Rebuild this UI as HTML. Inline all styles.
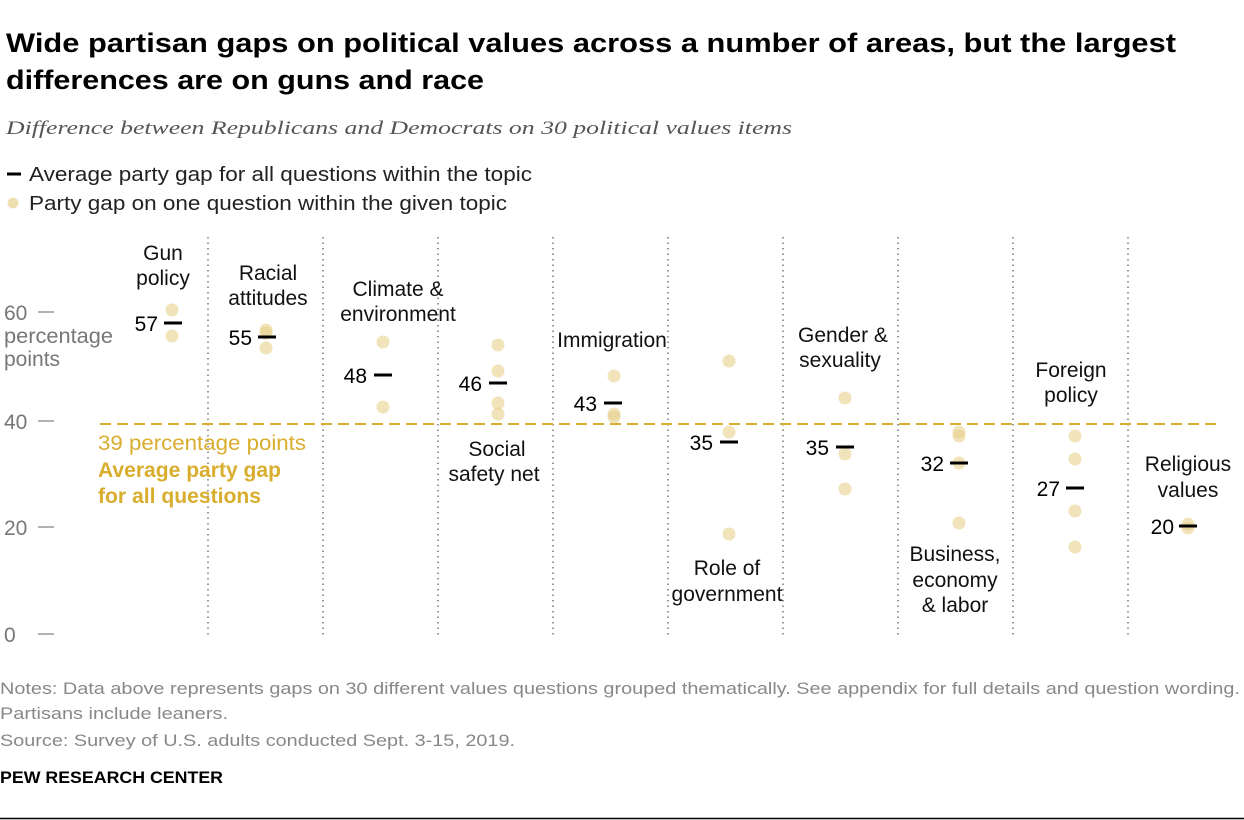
<!DOCTYPE html>
<html><head><meta charset="utf-8"><style>
html,body{margin:0;padding:0;background:#fff;}
svg{display:block;font-family:"Liberation Sans",sans-serif;}
</style></head><body>
<svg width="1244" height="820" viewBox="0 0 1244 820" xmlns="http://www.w3.org/2000/svg">
<text x="6" y="52" font-size="27" font-weight="bold" fill="#000" textLength="1170" lengthAdjust="spacingAndGlyphs">Wide partisan gaps on political values across a number of areas, but the largest</text>
<text x="6" y="89" font-size="27" font-weight="bold" fill="#000" textLength="478" lengthAdjust="spacingAndGlyphs">differences are on guns and race</text>
<text x="6" y="134" font-size="19" font-style="italic" font-family="Liberation Serif,serif" fill="#555" textLength="786" lengthAdjust="spacingAndGlyphs">Difference between Republicans and Democrats on 30 political values items</text>
<line x1="7" y1="174" x2="21" y2="174" stroke="#000" stroke-width="3"/>
<text x="29" y="181" font-size="20" fill="#222" textLength="503" lengthAdjust="spacingAndGlyphs">Average party gap for all questions within the topic</text>
<circle cx="13" cy="203" r="5.5" fill="#efe0b2"/>
<text x="29" y="210" font-size="20" fill="#222" textLength="478" lengthAdjust="spacingAndGlyphs">Party gap on one question within the given topic</text>
<g stroke="#777" stroke-width="1.5" stroke-dasharray="1.5,4">
<line x1="208" y1="237" x2="208" y2="636"/><line x1="323" y1="237" x2="323" y2="636"/><line x1="438" y1="237" x2="438" y2="636"/><line x1="553" y1="237" x2="553" y2="636"/><line x1="668" y1="237" x2="668" y2="636"/><line x1="783" y1="237" x2="783" y2="636"/><line x1="898" y1="237" x2="898" y2="636"/><line x1="1013" y1="237" x2="1013" y2="636"/><line x1="1128" y1="237" x2="1128" y2="636"/>
</g>
<g font-size="21" fill="#777">
<text x="4" y="320">60</text><text x="4" y="429">40</text><text x="4" y="535">20</text><text x="4" y="642">0</text>
<text x="4" y="343" textLength="109" lengthAdjust="spacingAndGlyphs">percentage</text><text x="4" y="366">points</text>
</g>
<g stroke="#999" stroke-width="1.5"><line x1="38" y1="312" x2="54" y2="312"/><line x1="38" y1="421" x2="54" y2="421"/><line x1="38" y1="527" x2="54" y2="527"/><line x1="38" y1="634" x2="54" y2="634"/></g>
<line x1="100" y1="424" x2="1222" y2="424" stroke="#d9ad2d" stroke-width="2" stroke-dasharray="11,6"/>
<g font-size="21" fill="#d9ad2d">
<text x="98" y="450" textLength="208" lengthAdjust="spacingAndGlyphs">39 percentage points</text>
<text x="98" y="477" font-weight="bold" textLength="183" lengthAdjust="spacingAndGlyphs">Average party gap</text>
<text x="98" y="503" font-weight="bold" textLength="163" lengthAdjust="spacingAndGlyphs">for all questions</text>
</g>
<g fill="rgba(232,208,140,0.6)">
<circle cx="172" cy="310" r="6.5"/><circle cx="172" cy="336" r="6.5"/>
<circle cx="266" cy="330" r="6.5"/><circle cx="266" cy="333" r="6.5"/><circle cx="266" cy="348" r="6.5"/>
<circle cx="383" cy="342" r="6.5"/><circle cx="383" cy="407" r="6.5"/>
<circle cx="498" cy="345" r="6.5"/><circle cx="498" cy="371" r="6.5"/><circle cx="498" cy="403" r="6.5"/><circle cx="498" cy="414" r="6.5"/>
<circle cx="614" cy="376" r="6.5"/><circle cx="614" cy="414" r="6.5"/><circle cx="614" cy="417" r="6.5"/>
<circle cx="729" cy="361" r="6.5"/><circle cx="729" cy="432" r="6.5"/><circle cx="729" cy="534" r="6.5"/>
<circle cx="845" cy="398" r="6.5"/><circle cx="845" cy="454" r="6.5"/><circle cx="845" cy="489" r="6.5"/>
<circle cx="959" cy="432" r="6.5"/><circle cx="959" cy="436" r="6.5"/><circle cx="959" cy="463" r="6.5"/><circle cx="959" cy="523" r="6.5"/>
<circle cx="1075" cy="436" r="6.5"/><circle cx="1075" cy="459" r="6.5"/><circle cx="1075" cy="511" r="6.5"/><circle cx="1075" cy="547" r="6.5"/>
<circle cx="1188" cy="524" r="6.5"/><circle cx="1188" cy="528" r="6.5"/>
</g>
<g stroke="#000" stroke-width="3">
<line x1="164" y1="323" x2="182" y2="323"/><line x1="258" y1="337" x2="276" y2="337"/><line x1="374" y1="375" x2="392" y2="375"/><line x1="489" y1="383" x2="507" y2="383"/><line x1="604" y1="403" x2="622" y2="403"/><line x1="720" y1="442" x2="738" y2="442"/><line x1="836" y1="447" x2="854" y2="447"/><line x1="950" y1="463" x2="968" y2="463"/><line x1="1066" y1="488" x2="1084" y2="488"/><line x1="1179" y1="526" x2="1197" y2="526"/>
</g>
<g font-size="21" fill="#000" text-anchor="end">
<text x="158" y="331">57</text><text x="252" y="345">55</text><text x="367" y="383">48</text><text x="482" y="391">46</text><text x="597" y="411">43</text><text x="713" y="450">35</text><text x="829" y="455">35</text><text x="944" y="471">32</text><text x="1060" y="496">27</text><text x="1174" y="534">20</text>
</g>
<g font-size="21" fill="#111" text-anchor="middle">
<text x="163" y="260">Gun</text><text x="163" y="285">policy</text>
<text x="268" y="280">Racial</text><text x="268" y="305">attitudes</text>
<text x="398" y="296">Climate &amp;</text><text x="398" y="321">environment</text>
<text x="497" y="456">Social</text><text x="494" y="481">safety net</text>
<text x="612" y="347">Immigration</text>
<text x="727" y="575">Role of</text><text x="727" y="601">government</text>
<text x="843" y="342">Gender &amp;</text><text x="840" y="367">sexuality</text>
<text x="955" y="561">Business,</text><text x="955" y="587">economy</text><text x="955" y="612">&amp; labor</text>
<text x="1071" y="377">Foreign</text><text x="1071" y="402">policy</text>
<text x="1188" y="471">Religious</text><text x="1188" y="497">values</text>
</g>
<g font-size="17" fill="#888" font-family="Liberation Sans Narrow,Liberation Sans,sans-serif">
<text x="0" y="694" textLength="1240" lengthAdjust="spacingAndGlyphs">Notes: Data above represents gaps on 30 different values questions grouped thematically. See appendix for full details and question wording.</text>
<text x="0" y="719" textLength="228" lengthAdjust="spacingAndGlyphs">Partisans include leaners.</text>
<text x="0" y="746" textLength="515" lengthAdjust="spacingAndGlyphs">Source: Survey of U.S. adults conducted Sept. 3-15, 2019.</text>
</g>
<text x="0" y="783" font-size="17" font-weight="bold" fill="#000" font-family="Liberation Sans Narrow,Liberation Sans,sans-serif" textLength="223" lengthAdjust="spacingAndGlyphs">PEW RESEARCH CENTER</text>
<line x1="0" y1="818.5" x2="1244" y2="818.5" stroke="#000" stroke-width="1.5"/>
</svg>
</body></html>
